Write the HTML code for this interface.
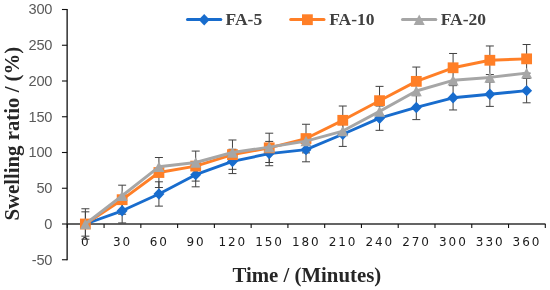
<!DOCTYPE html>
<html><head><meta charset="utf-8"><title>Swelling ratio chart</title>
<style>html,body{margin:0;padding:0;background:#fff}svg{display:block}</style></head>
<body>
<svg width="550" height="290" viewBox="0 0 550 290">
<rect width="550" height="290" fill="#fff"/>
<g stroke="#303030" stroke-width="1.5" fill="none">
<path d="M67.15 9.00V260.25"/>
<path d="M67.15 224.0H545.5"/>
</g>
<g stroke="#111" stroke-width="1.1" fill="none">
<path d="M61.95 259.75H67.15"/>
<path d="M61.95 224.00H67.15"/>
<path d="M61.95 188.25H67.15"/>
<path d="M61.95 152.50H67.15"/>
<path d="M61.95 116.75H67.15"/>
<path d="M61.95 81.00H67.15"/>
<path d="M61.95 45.25H67.15"/>
<path d="M61.95 9.50H67.15"/>
<path d="M67.30 224.0V228.0"/>
<path d="M104.07 224.0V228.0"/>
<path d="M140.84 224.0V228.0"/>
<path d="M177.61 224.0V228.0"/>
<path d="M214.38 224.0V228.0"/>
<path d="M251.15 224.0V228.0"/>
<path d="M287.92 224.0V228.0"/>
<path d="M324.68 224.0V228.0"/>
<path d="M361.45 224.0V228.0"/>
<path d="M398.22 224.0V228.0"/>
<path d="M434.99 224.0V228.0"/>
<path d="M471.76 224.0V228.0"/>
<path d="M508.53 224.0V228.0"/>
<path d="M545.30 224.0V228.0"/>
</g>
<g font-family="'Liberation Sans', sans-serif" font-size="14.6" letter-spacing="-0.25" fill="#595959" text-anchor="end">
<text x="52.2" y="264.65">-50</text>
<text x="52.2" y="228.90">0</text>
<text x="52.2" y="193.15">50</text>
<text x="52.2" y="157.40">100</text>
<text x="52.2" y="121.65">150</text>
<text x="52.2" y="85.90">200</text>
<text x="52.2" y="50.15">250</text>
<text x="52.2" y="14.40">300</text>
</g>
<g font-family="'DejaVu Sans', 'Liberation Sans', sans-serif" font-size="12" fill="#1a1a1a" text-anchor="middle" letter-spacing="1.9">
<text x="85.68" y="246.4">0</text>
<text x="122.45" y="246.4">30</text>
<text x="159.22" y="246.4">60</text>
<text x="195.99" y="246.4">90</text>
<text x="232.76" y="246.4">120</text>
<text x="269.53" y="246.4">150</text>
<text x="306.30" y="246.4">180</text>
<text x="343.07" y="246.4">210</text>
<text x="379.84" y="246.4">240</text>
<text x="416.61" y="246.4">270</text>
<text x="453.38" y="246.4">300</text>
<text x="490.15" y="246.4">330</text>
<text x="526.92" y="246.4">360</text>
</g>
<g stroke="#404040" stroke-width="1" fill="none">
<path d="M85.38 211.84V236.16M81.38 211.84h8M81.38 236.16h8"/>
<path d="M122.15 198.62V222.93M118.15 198.62h8M118.15 222.93h8"/>
<path d="M158.92 181.81V206.12M154.92 181.81h8M154.92 206.12h8"/>
<path d="M195.69 162.51V186.82M191.69 162.51h8M191.69 186.82h8"/>
<path d="M232.46 149.28V173.59M228.46 149.28h8M228.46 173.59h8"/>
<path d="M269.23 141.42V165.73M265.23 141.42h8M265.23 165.73h8"/>
<path d="M306.00 137.49V161.80M302.00 137.49h8M302.00 161.80h8"/>
<path d="M342.77 122.11V146.42M338.77 122.11h8M338.77 146.42h8"/>
<path d="M379.54 106.03V130.34M375.54 106.03h8M375.54 130.34h8"/>
<path d="M416.31 95.30V119.61M412.31 95.30h8M412.31 119.61h8"/>
<path d="M453.08 85.65V109.96M449.08 85.65h8M449.08 109.96h8"/>
<path d="M489.85 82.07V106.38M485.85 82.07h8M485.85 106.38h8"/>
<path d="M526.62 78.50V102.81M522.62 78.50h8M522.62 102.81h8"/>
<path d="M85.38 208.77V239.23M81.38 208.77h8M81.38 239.23h8"/>
<path d="M122.15 185.18V214.20M118.15 185.18h8M118.15 214.20h8"/>
<path d="M158.92 157.50V187.53M154.92 157.50h8M154.92 187.53h8"/>
<path d="M195.69 151.07V181.10M191.69 151.07h8M191.69 181.10h8"/>
<path d="M232.46 139.99V169.30M228.46 139.99h8M228.46 169.30h8"/>
<path d="M269.23 133.19V162.51M265.23 133.19h8M265.23 162.51h8"/>
<path d="M306.00 124.26V152.86M302.00 124.26h8M302.00 152.86h8"/>
<path d="M342.77 106.03V134.62M338.77 106.03h8M338.77 134.62h8"/>
<path d="M379.54 86.36V114.96M375.54 86.36h8M375.54 114.96h8"/>
<path d="M416.31 67.06V95.66M412.31 67.06h8M412.31 95.66h8"/>
<path d="M453.08 53.47V82.07M449.08 53.47h8M449.08 82.07h8"/>
<path d="M489.85 45.97V74.56M485.85 45.97h8M485.85 74.56h8"/>
<path d="M526.62 44.53V73.14M522.62 44.53h8M522.62 73.14h8"/>
</g>
<polyline points="85.38,224.00 122.15,210.77 158.92,193.97 195.69,174.66 232.46,161.44 269.23,153.57 306.00,149.64 342.77,134.27 379.54,118.18 416.31,107.45 453.08,97.80 489.85,94.23 526.62,90.65" fill="none" stroke="#186ccd" stroke-width="2.9" stroke-linejoin="round" stroke-linecap="round"/>
<path d="M85.38 218.30L90.88 224.00L85.38 229.70L79.88 224.00Z" fill="#186ccd"/>
<path d="M122.15 205.07L127.65 210.77L122.15 216.47L116.65 210.77Z" fill="#186ccd"/>
<path d="M158.92 188.27L164.42 193.97L158.92 199.67L153.42 193.97Z" fill="#186ccd"/>
<path d="M195.69 168.97L201.19 174.66L195.69 180.36L190.19 174.66Z" fill="#186ccd"/>
<path d="M232.46 155.74L237.96 161.44L232.46 167.14L226.96 161.44Z" fill="#186ccd"/>
<path d="M269.23 147.87L274.73 153.57L269.23 159.27L263.73 153.57Z" fill="#186ccd"/>
<path d="M306.00 143.94L311.50 149.64L306.00 155.34L300.50 149.64Z" fill="#186ccd"/>
<path d="M342.77 128.57L348.27 134.27L342.77 139.97L337.27 134.27Z" fill="#186ccd"/>
<path d="M379.54 112.48L385.04 118.18L379.54 123.88L374.04 118.18Z" fill="#186ccd"/>
<path d="M416.31 101.75L421.81 107.45L416.31 113.16L410.81 107.45Z" fill="#186ccd"/>
<path d="M453.08 92.10L458.58 97.80L453.08 103.50L447.58 97.80Z" fill="#186ccd"/>
<path d="M489.85 88.53L495.35 94.23L489.85 99.93L484.35 94.23Z" fill="#186ccd"/>
<path d="M526.62 84.95L532.12 90.65L526.62 96.35L521.12 90.65Z" fill="#186ccd"/>
<polyline points="85.38,224.00 122.15,199.69 158.92,172.52 195.69,166.09 232.46,154.64 269.23,147.85 306.00,138.56 342.77,120.33 379.54,100.66 416.31,81.36 453.08,67.77 489.85,60.27 526.62,58.84" fill="none" stroke="#ff7f27" stroke-width="2.9" stroke-linejoin="round" stroke-linecap="round"/>
<rect x="79.98" y="218.60" width="10.8" height="10.8" fill="#ff7f27"/>
<rect x="116.75" y="194.29" width="10.8" height="10.8" fill="#ff7f27"/>
<rect x="153.52" y="167.12" width="10.8" height="10.8" fill="#ff7f27"/>
<rect x="190.29" y="160.69" width="10.8" height="10.8" fill="#ff7f27"/>
<rect x="227.06" y="149.24" width="10.8" height="10.8" fill="#ff7f27"/>
<rect x="263.83" y="142.45" width="10.8" height="10.8" fill="#ff7f27"/>
<rect x="300.60" y="133.16" width="10.8" height="10.8" fill="#ff7f27"/>
<rect x="337.37" y="114.92" width="10.8" height="10.8" fill="#ff7f27"/>
<rect x="374.14" y="95.26" width="10.8" height="10.8" fill="#ff7f27"/>
<rect x="410.91" y="75.96" width="10.8" height="10.8" fill="#ff7f27"/>
<rect x="447.68" y="62.37" width="10.8" height="10.8" fill="#ff7f27"/>
<rect x="484.45" y="54.87" width="10.8" height="10.8" fill="#ff7f27"/>
<rect x="521.22" y="53.44" width="10.8" height="10.8" fill="#ff7f27"/>
<polyline points="85.38,224.00 122.15,195.76 158.92,166.80 195.69,162.51 232.46,152.50 269.23,147.14 306.00,141.06 342.77,131.05 379.54,111.39 416.31,91.01 453.08,80.28 489.85,77.43 526.62,73.14" fill="none" stroke="#a6a6a6" stroke-width="2.9" stroke-linejoin="round" stroke-linecap="round"/>
<path d="M85.38 218.70L90.88 229.30H79.88Z" fill="#a6a6a6"/>
<path d="M122.15 190.46L127.65 201.06H116.65Z" fill="#a6a6a6"/>
<path d="M158.92 161.50L164.42 172.10H153.42Z" fill="#a6a6a6"/>
<path d="M195.69 157.21L201.19 167.81H190.19Z" fill="#a6a6a6"/>
<path d="M232.46 147.20L237.96 157.80H226.96Z" fill="#a6a6a6"/>
<path d="M269.23 141.84L274.73 152.44H263.73Z" fill="#a6a6a6"/>
<path d="M306.00 135.76L311.50 146.36H300.50Z" fill="#a6a6a6"/>
<path d="M342.77 125.75L348.27 136.35H337.27Z" fill="#a6a6a6"/>
<path d="M379.54 106.09L385.04 116.69H374.04Z" fill="#a6a6a6"/>
<path d="M416.31 85.71L421.81 96.31H410.81Z" fill="#a6a6a6"/>
<path d="M453.08 74.98L458.58 85.58H447.58Z" fill="#a6a6a6"/>
<path d="M489.85 72.13L495.35 82.73H484.35Z" fill="#a6a6a6"/>
<path d="M526.62 67.84L532.12 78.44H521.12Z" fill="#a6a6a6"/>
<path d="M187.5 19.6H220.8" stroke="#186ccd" stroke-width="3" stroke-linecap="round"/>
<path d="M204.20 14.00L209.70 19.70L204.20 25.40L198.70 19.70Z" fill="#186ccd"/>
<text x="225.6" y="25.2" font-family="'Liberation Serif', serif" font-weight="bold" font-size="17.5" fill="#404040">FA-5</text>
<path d="M290.7 19.6H324.0" stroke="#ff7f27" stroke-width="3" stroke-linecap="round"/>
<rect x="302.00" y="14.30" width="10.8" height="10.8" fill="#ff7f27"/>
<text x="329.2" y="25.2" font-family="'Liberation Serif', serif" font-weight="bold" font-size="17.5" fill="#404040">FA-10</text>
<path d="M402.5 19.6H435.8" stroke="#a6a6a6" stroke-width="3" stroke-linecap="round"/>
<path d="M419.20 14.40L424.70 25.00H413.70Z" fill="#a6a6a6"/>
<text x="440.7" y="25.2" font-family="'Liberation Serif', serif" font-weight="bold" font-size="17.5" fill="#404040">FA-20</text>
<text x="232.5" y="281.5" font-family="'Liberation Serif', serif" font-weight="bold" font-size="20.8" fill="#262626">Time / (Minutes)</text>
<text transform="translate(19.2 220.6) rotate(-90)" font-family="'Liberation Serif', serif" font-weight="bold" font-size="20.8" fill="#262626">Swelling ratio / (%)</text>
</svg>
</body></html>
